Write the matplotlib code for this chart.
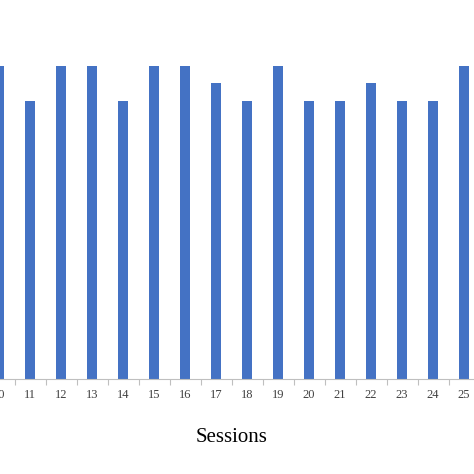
import matplotlib
matplotlib.use("Agg")
from matplotlib import pyplot as plt

# Session numbers and bar heights
sessions = [10, 11, 12, 13, 14, 15, 16, 17, 18, 19, 20, 21, 22, 23, 24, 25]
values = [18, 16, 18, 18, 16, 18, 18, 17, 16, 18, 16, 16, 17, 16, 16, 18]
tick_labels = [str(s) for s in sessions]

plt.rcParams['font.family'] = ['Liberation Serif', 'DejaVu Serif']

fig = plt.figure(figsize=(4.74, 4.74), dpi=100)
ax = fig.add_axes([0, 95 / 474, 1, 379 / 474])

ax.bar(sessions, values, width=0.3, color='#4472C4', zorder=2)

ax.set_xticks(sessions)
ax.set_xticklabels(tick_labels, fontsize=9, color='#404040')
ax.set_xticks([s + 0.5 for s in sessions[:-1]], minor=True)
ax.tick_params(axis='x', which='major', length=0, pad=7)
ax.tick_params(axis='x', which='minor', length=4, color='#bfbfbf', width=0.8)
ax.set_yticks([])

# crop the view like the reference (bar 10 cut at the left edge)
ax.set_xlim(10.032, 10.032 + 474 / 31)
ax.set_ylim(0, 21.8)

# first label sits partly outside the view, draw it by hand so "0" shows
first = ax.get_xticklabels()[0]
ax.annotate(tick_labels[0], xy=(sessions[0], 0), xycoords=('data', 'data'),
            xytext=(0, -7), textcoords='offset points', ha='center', va='top',
            fontsize=9, color='#404040', annotation_clip=False)

for side in ['top', 'right', 'left']:
    ax.spines[side].set_visible(False)
ax.spines['bottom'].set_color('#bfbfbf')
ax.spines['bottom'].set_linewidth(0.8)

fig.text(232 / 474, 1 - 438 / 474, 'Sessions', fontsize=15,
         ha='center', va='center', color='black')

fig.savefig('out.png', dpi=100)
